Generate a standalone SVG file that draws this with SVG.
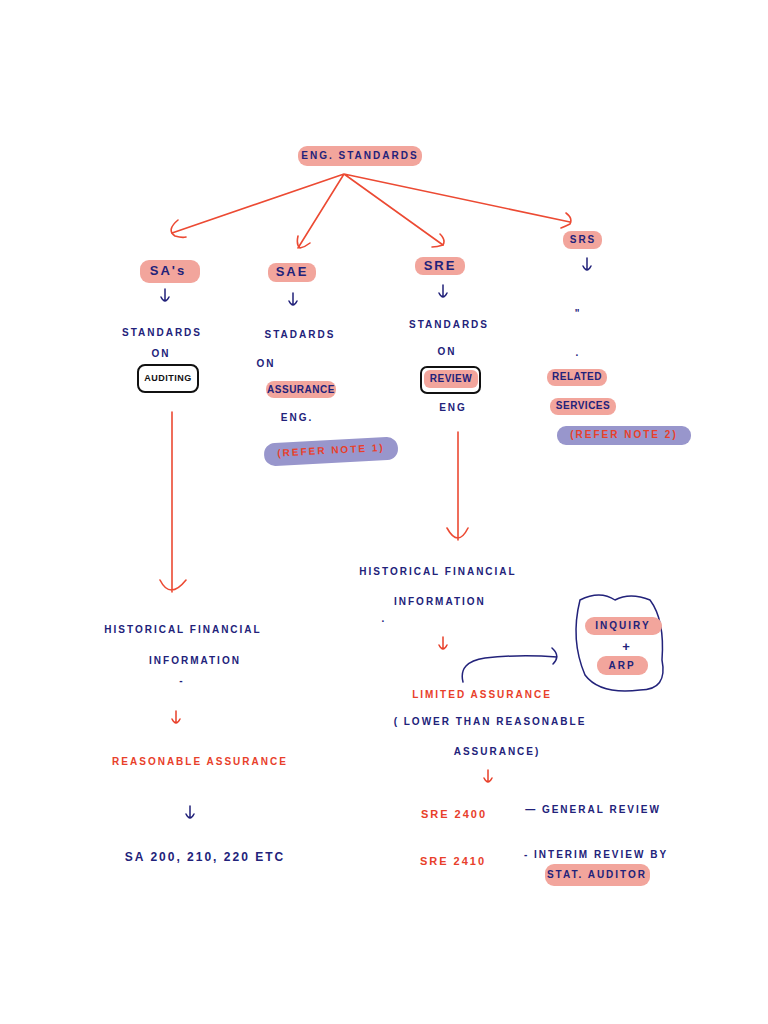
<svg xmlns="http://www.w3.org/2000/svg" width="768" height="1024" viewBox="0 0 768 1024">
<style>
text{font-family:"Liberation Sans",Arial,sans-serif;font-size:10px;font-weight:bold;letter-spacing:2px;text-anchor:middle;dominant-baseline:middle}
.n{fill:#22227a}.r{fill:#e8402a}
.pk{fill:#f2a59c}.pu{fill:#9896cc}
.ln{stroke:#ec4a33;stroke-width:1.6;fill:none;stroke-linecap:round}
.bl{stroke:#22227a;stroke-width:1.5;fill:none;stroke-linecap:round}
.bx{stroke:#111;stroke-width:2;fill:none}
.t{letter-spacing:0.5px}
</style>
<defs>
<path id="da" d="M0 -7V5M-4 1Q0 9 4 1" fill="none" stroke-width="1.5" stroke-linecap="round"/>
</defs>
<rect width="768" height="1024" fill="#fff"/>
<g id="connectors">
<path class="ln" d="M344 174L172 233M344 174L298 248M344 174L443 245M344 174L570 222"/>
<path class="ln" d="M178 220Q166 230 175 236Q182 238 186 237M298 236Q296 245 300 248Q305 247 310 243M440 234Q446 240 443 245Q437 247 432 247M566 213Q573 218 570 224Q566 226 561 228"/>
<path class="ln" d="M172 412V592M160 580Q170 600 186 580M458 432V540M447 528Q458 548 468 528"/>
<path class="bl" d="M463 682Q458 662 485 658Q520 654 557 657M552 648Q561 656 553 664"/>
<path class="bl" d="M580 600Q600 590 615 600Q630 592 650 600Q665 620 662 660Q668 690 640 690Q600 695 585 675Q570 640 580 600Z"/>
<g stroke="#22227a"><use href="#da" x="165" y="296"/><use href="#da" x="293" y="300"/><use href="#da" x="443" y="292"/><use href="#da" x="587" y="265"/><use href="#da" x="190" y="813"/></g>
<g stroke="#e8402a"><use href="#da" x="176" y="718"/><use href="#da" x="443" y="644"/><use href="#da" x="488" y="777"/></g>
</g>
<g id="root"><rect class="pk" x="298" y="146" width="124" height="20" rx="9"/><text class="n" x="360" y="156">ENG. STANDARDS</text></g>
<g id="sas"><rect class="pk" x="140" y="260" width="60" height="23" rx="9"/><text class="n" x="168" y="272" style="font-size:13px">SA's</text>
<text class="n" x="162" y="333">STANDARDS</text><text class="n" x="161" y="354">ON</text>
<rect class="bx" x="138" y="365" width="60" height="27" rx="7"/><text class="t" x="168" y="379" style="font-size:9px;fill:#111">AUDITING</text></g>
<g id="sae"><rect class="pk" x="268" y="263" width="48" height="19" rx="8"/><text class="n" x="292" y="273" style="font-size:13px">SAE</text>
<text class="n" x="300" y="335">STADARDS</text><text class="n" x="266" y="364">ON</text>
<rect class="pk" x="266" y="381" width="70" height="17" rx="8"/><text class="n t" x="301" y="390">ASSURANCE</text>
<text class="n" x="297" y="418">ENG.</text>
<rect class="pu" x="264" y="440" width="134" height="23" rx="11" transform="rotate(-3 331 451)"/><text class="r" x="331" y="451" transform="rotate(-3 331 451)">(REFER NOTE 1)</text></g>
<g id="sre"><rect class="pk" x="415" y="257" width="50" height="18" rx="8"/><text class="n" x="440" y="267" style="font-size:13px">SRE</text>
<text class="n" x="449" y="325">STANDARDS</text><text class="n" x="447" y="352">ON</text>
<rect class="pk" x="424" y="370" width="54" height="18" rx="6"/><rect class="bx" x="421" y="367" width="59" height="26" rx="6"/><text class="n t" x="451" y="379">REVIEW</text>
<text class="n" x="453" y="408">ENG</text></g>
<g id="srs"><rect class="pk" x="563" y="231" width="39" height="18" rx="8"/><text class="n" x="583" y="240">SRS</text>
<text class="n" x="578" y="314">"</text><text class="n" x="578" y="353">.</text>
<rect class="pk" x="547" y="369" width="60" height="17" rx="8"/><text class="n t" x="577" y="377">RELATED</text>
<rect class="pk" x="550" y="398" width="66" height="17" rx="8"/><text class="n t" x="583" y="406">SERVICES</text>
<rect class="pu" x="557" y="426" width="134" height="19" rx="9"/><text class="r" x="624" y="435">(REFER NOTE 2)</text></g>
<g id="left-chain">
<text class="n" x="183" y="630">HISTORICAL  FINANCIAL</text><text class="n" x="195" y="661">INFORMATION</text><text class="n" x="182" y="681">-</text>
<text class="r" x="200" y="762">REASONABLE  ASSURANCE</text>
<text class="n" x="205" y="858" style="font-size:12px">SA 200, 210, 220 ETC</text></g>
<g id="right-chain">
<text class="n" x="438" y="572">HISTORICAL  FINANCIAL</text><text class="n" x="394" y="602" style="text-anchor:start">INFORMATION</text><text class="n" x="384" y="619">.</text>
<text class="r" x="482" y="695">LIMITED  ASSURANCE</text>
<text class="n" x="490" y="722">( LOWER  THAN  REASONABLE</text><text class="n" x="497" y="752">ASSURANCE)</text>
<text class="r" x="454" y="815" style="font-size:11px">SRE  2400</text><text class="n" x="593" y="810">— GENERAL  REVIEW</text>
<text class="r" x="453" y="862" style="font-size:11px">SRE  2410</text><text class="n" x="596" y="855">- INTERIM REVIEW  BY</text>
<rect class="pk" x="545" y="864" width="105" height="22" rx="9"/><text class="n" x="597" y="875">STAT. AUDITOR</text></g>
<g id="inquiry">
<rect class="pk" x="585" y="617" width="77" height="18" rx="9"/><text class="n" x="623" y="626">INQUIRY</text>
<text class="n" x="627" y="648" style="font-size:13px">+</text>
<rect class="pk" x="597" y="656" width="51" height="19" rx="9"/><text class="n" x="622" y="666">ARP</text></g>
</svg>
